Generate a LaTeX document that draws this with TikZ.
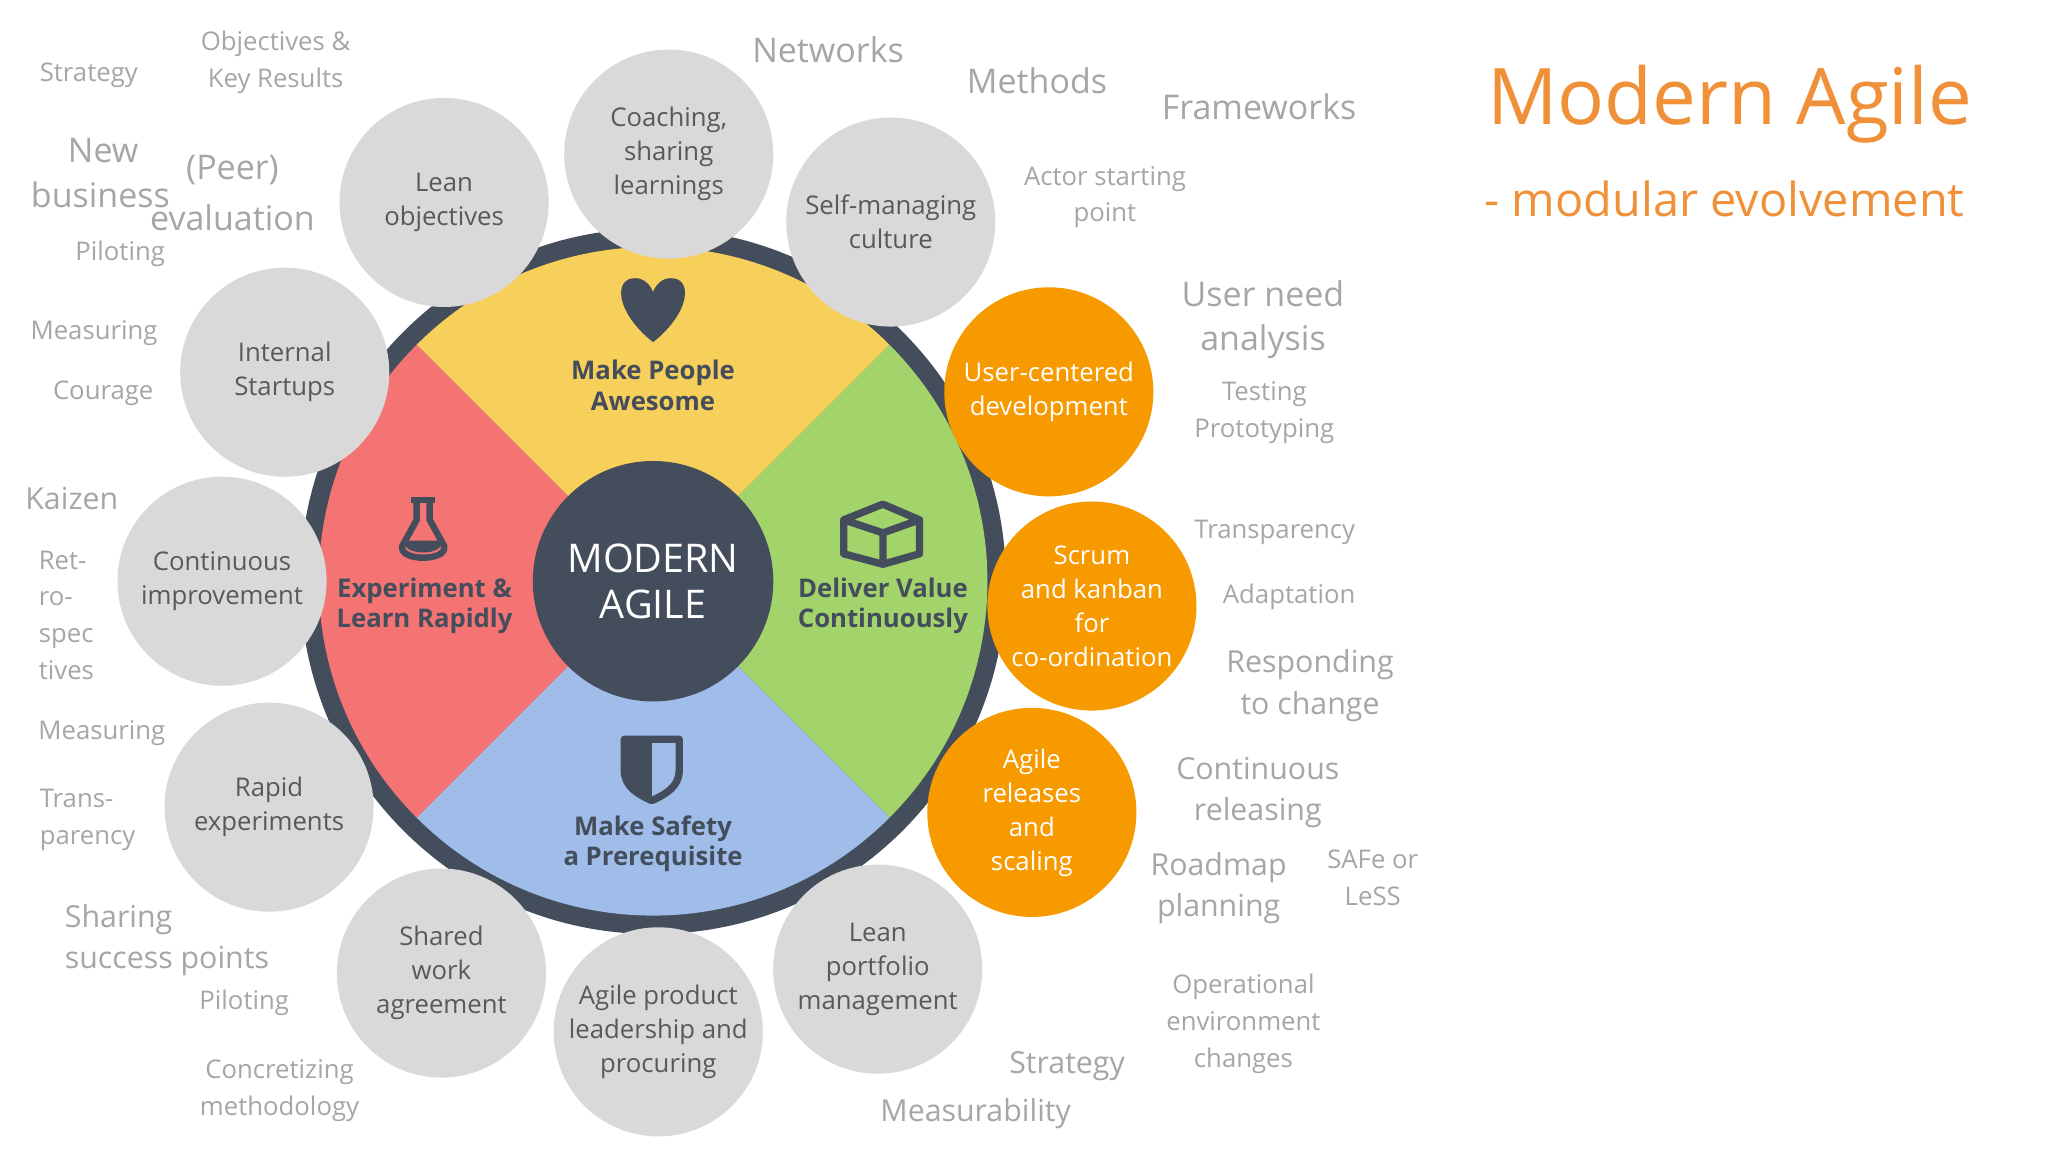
\documentclass[tikz,border=0pt]{standalone}
\usepackage{fontspec}
\setmainfont{Open Sans}
\begin{document}
\begin{tikzpicture}[x=0.01cm,y=-0.01cm,
 gc/.style={circle,fill=cgray,minimum size=1.6cm,inner sep=0,text=ctext,align=center,font=\fontsize{5.6}{7.4}\selectfont},
 oc/.style={circle,fill=corange,minimum size=1.6cm,inner sep=0,text=white,align=center,font=\fontsize{5.6}{7.4}\selectfont},
 lb/.style={text=clab,align=center,inner sep=0,font=\fontsize{5.6}{8}\selectfont},
 lbm/.style={text=clab,align=center,inner sep=0,font=\fontsize{6.6}{9}\selectfont},
 lbl/.style={text=clab,align=center,inner sep=0,font=\fontsize{7.4}{9.6}\selectfont},
 ql/.style={text=cdark,align=center,inner sep=0,font=\fontsize{5.6}{6.6}\selectfont\bfseries}]
\definecolor{cgray}{HTML}{D9D9D9}\definecolor{ctext}{HTML}{595959}
\definecolor{clab}{HTML}{A6A6A6}\definecolor{cdark}{HTML}{434D5B}
\definecolor{corange}{HTML}{F79A00}\definecolor{ctitle}{HTML}{F0913A}
\definecolor{cy}{HTML}{F7CF5B}\definecolor{cg}{HTML}{A3D36B}
\definecolor{cb}{HTML}{A0BDEA}\definecolor{cr}{HTML}{F47474}
\useasboundingbox (0,0) rectangle (1568,882);
\fill[white] (0,0) rectangle (1568,882);
% main wheel
\coordinate (C) at (500,445);
\fill[cdark] (C) circle[radius=2.7cm];
\fill[cy] (C) -- ++(225:256) arc[start angle=225,end angle=315,radius=256] -- cycle;
\fill[cg] (C) -- ++(315:256) arc[start angle=315,end angle=405,radius=256] -- cycle;
\fill[cb] (C) -- ++(45:256) arc[start angle=45,end angle=135,radius=256] -- cycle;
\fill[cr] (C) -- ++(135:256) arc[start angle=135,end angle=225,radius=256] -- cycle;
\node[circle,fill=cdark,minimum size=1.84cm,inner sep=0,text=white,align=center,font=\fontsize{8.6}{10}\selectfont] (core) at (C) {MODERN\\AGILE};
% icons
\fill[cdark] (500,262) .. controls (470,238) and (470,212) .. (487,213) .. controls (495,213) and (500,222) .. (500,224) .. controls (500,222) and (505,213) .. (513,213) .. controls (530,212) and (530,238) .. (500,262) -- cycle;
\draw[cdark,line width=1.4] (319,383) -- (319,398) -- (308,418) .. controls (305,430) and (343,430) .. (340,418) -- (329,398) -- (329,383);
\draw[cdark,line width=1.4] (315,383) -- (333,383);
\fill[cdark] (310,414) -- (338,414) .. controls (341,426) and (307,426) .. (310,414);
\draw[cdark,line width=1.6,line join=round] (646,398) -- (676,386) -- (704,398) -- (704,424) -- (676,432) -- (646,424) -- cycle (646,398) -- (676,408) -- (704,398) (676,408) -- (676,432);
\draw[cdark,line width=1.6,line join=round] (478,566) -- (520,566) -- (520,590) .. controls (520,602) and (510,608) .. (499,613) .. controls (488,608) and (478,602) .. (478,590) -- cycle;
\fill[cdark] (499,566) -- (478,566) -- (478,590) .. controls (478,602) and (488,608) .. (499,613) -- cycle;
\node[ql] (q1) at (500,295) {Make People\\Awesome};
\node[ql] (q2) at (325,464) {Experiment \&\\Learn Rapidly};
\node[ql] (q3) at (676,464) {Deliver Value\\Continuously};
\node[ql] (q4) at (500,646) {Make Safety\\a Prerequisite};
% gray circles
\node[gc] (g1) at (340,155) {Lean\\objectives};
\node[gc] (g2) at (512,118) {Coaching,\\sharing\\learnings};
\node[gc] (g3) at (682,170) {Self-managing\\culture};
\node[gc] (g4) at (218,285) {Internal\\Startups};
\node[gc] (g5) at (170,445) {Continuous\\improvement};
\node[gc] (g6) at (206,618) {Rapid\\experiments};
\node[gc] (g7) at (338,745) {Shared\\work\\agreement};
\node[gc] (g8) at (504,790) {Agile product\\leadership and\\procuring};
\node[gc] (g9) at (672,742) {Lean\\portfolio\\management};
\node[oc] (o1) at (803,300) {User-centered\\development};
\node[oc] (o2) at (836,464) {Scrum\\and kanban\\for\\co-ordination};
\node[oc] (o3) at (790,622) {Agile\\releases\\and\\scaling};
% labels
\node[lb] at (68,58) {Strategy};
\node[lb] at (211,48) {Objectives \&\\Key Results};
\node[lbl] at (634,38) {Networks};
\node[lbl] at (794,62) {Methods};
\node[lbl] at (964,82) {Frameworks};
\node[lbl] at (79,115) {New};
\node[lbl,anchor=west] at (23,149) {business};
\node[lbl] at (178,130) {(Peer)};
\node[lbl] at (178,167) {evaluation};
\node[lb] at (92,194) {Piloting};
\node[lb] at (846,151) {Actor starting\\point};
\node[lb] at (72,255) {Measuring};
\node[lb] at (79,301) {Courage};
\node[lbl] at (967,245) {User need\\analysis};
\node[lb] at (968,316) {Testing\\Prototyping};
\node[lbm] at (55,382) {Kaizen};
\node[lb,align=left,anchor=north west] at (29,421) {Ret-\\ro-\\spec\\tives};
\node[lb] at (976,408) {Transparency};
\node[lb] at (987,457) {Adaptation};
\node[lbm] at (1003,525) {Responding\\to change};
\node[lb] at (78,561) {Measuring};
\node[lb,align=left] at (67,628) {Trans-\\parency};
\node[lbm] at (963,607) {Continuous\\releasing};
\node[lbm] at (933,680) {Roadmap\\planning};
\node[lb] at (1051,672) {SAFe or\\LeSS};
\node[lbm,align=left,anchor=west] at (49,720) {Sharing\\success points};
\node[lb] at (187,768) {Piloting};
\node[lb] at (952,784) {Operational\\environment\\changes};
\node[lbm] at (817,816) {Strategy};
\node[lbm] at (747,853) {Measurability};
\node[lb] at (214,835) {Concretizing\\methodology};
\node[text=ctitle,inner sep=0,anchor=west,font=\fontsize{17}{20}\selectfont] (t1) at (1138,80) {Modern Agile};
\node[text=ctitle,inner sep=0,anchor=west,font=\fontsize{10.2}{12}\selectfont] (t2) at (1136,152) {- modular evolvement};
\end{tikzpicture}
\end{document}
